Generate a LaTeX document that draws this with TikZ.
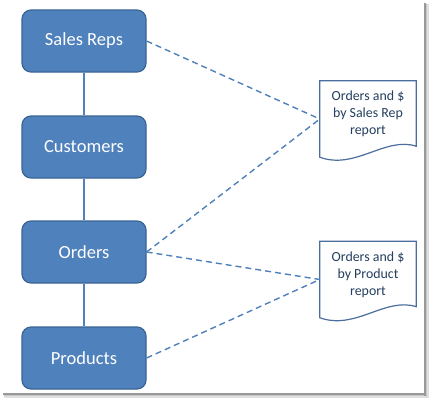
\documentclass[tikz,border=0pt]{standalone}
\usepackage{fontspec}
\setmainfont{Carlito}
\usetikzlibrary{calc}
\definecolor{boxfill}{HTML}{4F81BD}
\definecolor{boxline}{HTML}{3A6494}
\definecolor{docline}{HTML}{4A6E9E}
\definecolor{doctext}{HTML}{243F60}
\definecolor{conn}{HTML}{4F81BD}
\tikzset{
  entity/.style={draw=boxline, line width=1.2pt, fill=boxfill, rounded corners=9pt,
    minimum width=124pt, minimum height=62pt, inner sep=0pt,
    text=white, font=\fontsize{18.5}{22}\selectfont},
  docbody/.style={minimum width=96pt, minimum height=76pt, inner sep=0pt},
  doctxt/.style={align=center, text=doctext, font=\fontsize{13.9}{17}\selectfont, inner sep=0pt},
  docshape/.style={draw=docline, line width=1.2pt, fill=white},
  solidlink/.style={draw=conn, line width=1.3pt},
  dashlink/.style={draw=conn, line width=1.4pt, dash pattern=on 6pt off 4pt},
}
\begin{document}
\begin{tikzpicture}[x=1pt,y=-1pt]
\useasboundingbox (0,0) rectangle (431,400);
\fill[white] (0,0) rectangle (431,400);
% shadow frame
\fill[black!12] (427,4) rectangle (429,398);
\fill[black!12] (4,396) rectangle (429,398);
\fill[black!22] (425.5,4) rectangle (427,397);
\fill[black!22] (4,394.5) rectangle (427,396);
\fill[black!40] (423.5,3) rectangle (425.5,395.5);
\fill[black!40] (3,393) rectangle (425.5,394.5);

% entity boxes
\node[entity] (sr) at (84,41) {Sales Reps};
\node[entity] (cu) at (84,147) {Customers};
\node[entity] (or) at (84,252) {Orders};
\node[entity] (pr) at (84,358) {Products};

% documents
\node[docbody] (d1) at (368,119) {};
\node[docbody] (d2) at (368,279.5) {};
\foreach \d in {d1,d2}{
  \draw[docshape] (\d.north west) -- (\d.north east) -- ($(\d.south east)+(0,-11)$)
    .. controls ($(\d.south east)+(-31,-21)$) and ($(\d.south east)+(-61,13)$) .. (\d.south west) -- cycle;
}
\node[doctxt] (t1) at (368,114) {Orders and \$\\by Sales Rep\\report};
\node[doctxt] (t2) at (368,275) {Orders and \$\\by Product\\report};

% links
\draw[solidlink] (sr) -- (cu);
\draw[solidlink] (cu) -- (or);
\draw[solidlink] (or) -- (pr);
\draw[dashlink] (sr.east) -- (d1.west);
\draw[dashlink] (or.east) -- (d1.west);
\draw[dashlink] (or.east) -- (d2.west);
\draw[dashlink] (pr.east) -- (d2.west);
\end{tikzpicture}
\end{document}
